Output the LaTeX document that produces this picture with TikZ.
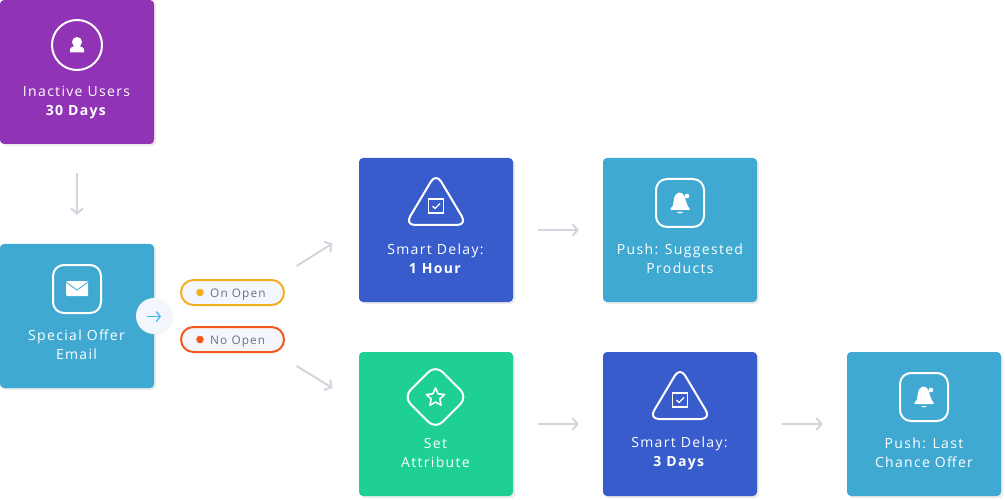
\documentclass[tikz,border=0pt]{standalone}
\usepackage{fontspec}
\setmainfont{Open Sans}[LetterSpace=9.5]
\usetikzlibrary{arrows.meta,shadows,shapes.geometric}
\definecolor{cardpurple}{HTML}{9033B5}
\definecolor{cardteal}{HTML}{3FA9D1}
\definecolor{cardblue}{HTML}{385CCB}
\definecolor{cardgreen}{HTML}{1FD095}
\definecolor{flowgray}{HTML}{D5D3DE}
\definecolor{pillfill}{HTML}{F3F6FC}
\definecolor{pilltext}{HTML}{6B7288}
\definecolor{pillamber}{HTML}{F2B01E}
\definecolor{pillorange}{HTML}{F4581C}
\definecolor{branchblue}{HTML}{3BB8F0}
\tikzset{
	card/.style={minimum width=154pt,minimum height=144pt,inner sep=0pt,rounded corners=4pt,fill=#1,
		drop shadow={shadow xshift=2pt,shadow yshift=-2pt,fill=black!40,opacity=.2}},
	cardtext/.style={text=white,align=center,inner sep=0pt,font=\fontsize{14}{19}\selectfont},
	icon/.style={draw=white,line width=2pt},
	pillbox/.style={draw=#1,line width=2pt,fill=pillfill,rounded corners=12.4pt,minimum width=103pt,minimum height=25pt,inner sep=0pt,
		drop shadow={shadow xshift=1pt,shadow yshift=-1pt,fill=black!30,opacity=.2}},
	pilltxt/.style={text=pilltext,inner sep=0pt,font=\fontsize{11.8}{14}\selectfont},
	flow/.style={draw=flowgray,line width=2pt,-{Straight Barb[length=5pt,width=12pt]}},
}
\newcommand{\bellicon}[1]{%
	\begin{scope}[shift={(#1)}]
	\draw[icon,rounded corners=11pt] (-24,-24) rectangle (24,24);
	\fill[white] (-9.5,7) -- (-9.5,5.5) .. controls (-7,4) and (-6.5,2) .. (-6.5,-1) .. controls (-6.5,-6.5) and (-3.5,-10.5) .. (-.5,-10.5) .. controls (2,-10.5) and (3.5,-9) .. (4.5,-6.5) .. controls (6,-3) and (6.5,2.5) .. (9.5,5.5) -- (9.5,7) -- cycle;
	\fill[white] (7,-7) circle (2.3);
	\fill[white] (-3,9) -- (3,9) .. controls (2,10.8) and (-2,10.8) .. (-3,9) -- cycle;
	\end{scope}}
\newcommand{\delayicon}[1]{%
	\begin{scope}[shift={(#1)}]
	\draw[icon,rounded corners=10pt,line join=round] (0,-31) -- (31,21) -- (-31,21) -- cycle;
	\draw[white,line width=1.7pt] (-7.5,-5) rectangle (7.5,9);
	\draw[white,line width=1.2pt] (-3.5,2) -- (-1,4.5) -- (4,-.5);
	\end{scope}}
\begin{document}
\begin{tikzpicture}[x=1pt,y=-1pt]
	\useasboundingbox (0,0) rectangle (1005,500);
	% cards
	\node[card=cardpurple] (inactive) at (77,72) {};
	\node[card=cardteal] (email) at (77,316) {};
	\node[card=cardblue] (delayone) at (436,230) {};
	\node[card=cardteal] (pushone) at (680,230) {};
	\node[card=cardgreen] (attribute) at (436,424) {};
	\node[card=cardblue] (delaytwo) at (680,424) {};
	\node[card=cardteal] (pushtwo) at (924,424) {};
	% card texts
	\node[cardtext] (inactive text) at (76.5,103) {Inactive Users\\\textbf{30 Days}};
	\node[cardtext] (email text) at (76.5,345) {Special Offer\\Email};
	\node[cardtext] (delayone text) at (435.5,259) {Smart Delay:\\\textbf{1 Hour}};
	\node[cardtext] (pushone text) at (680,259) {Push: Suggested\\Products};
	\node[cardtext] (attribute text) at (435.5,453) {Set\\Attribute};
	\node[cardtext] (delaytwo text) at (679.5,453) {Smart Delay:\\\textbf{3 Days}};
	\node[cardtext] (pushtwo text) at (924,453) {Push: Last\\Chance Offer};
	% user icon
	\draw[icon] (77,45) circle (25);
	\fill[white] (77,42) circle (5);
	\fill[white] (70,52.5) -- (70,50) .. controls (70,47.5) and (73,46) .. (77,46) .. controls (81,46) and (84,47.5) .. (84,50) -- (84,52.5) -- cycle;
	% mail icon
	\draw[icon,rounded corners=11pt] (53,265) rectangle (101,313);
	\fill[white,rounded corners=1pt] (66,281) rectangle (88,296);
	\draw[cardteal,line width=.8pt] (66,282) -- (77,290) -- (88,282);
	% other icons
	\delayicon{436,204}
	\delayicon{680,398}
	\bellicon{680,203}
	\bellicon{924,397}
	\draw[icon,rounded corners=10pt,line join=round] (435.5,365) -- (467.5,397) -- (435.5,429) -- (403.5,397) -- cycle;
	\node[star,star points=5,star point ratio=2.1,draw=white,line width=1.6pt,line join=round,minimum size=19pt,inner sep=0pt] (staricon) at (435.5,397.5) {};
	% flow
	\draw[flow,shorten <=29pt,shorten >=29pt] (inactive) -- (email);
	\draw[flow,shorten <=25pt,shorten >=24pt] (delayone) -- (pushone);
	\draw[flow,shorten <=25pt,shorten >=24pt] (attribute) -- (delaytwo);
	\draw[flow,shorten <=25pt,shorten >=24pt] (delaytwo) -- (pushtwo);
	\coordinate (upstart) at (296.5,266);
	\coordinate (upend) at (332.5,243.5);
	\coordinate (downstart) at (296.5,366);
	\coordinate (downend) at (332.5,388);
	\draw[flow] (upstart) -- (upend);
	\draw[flow] (downstart) -- (downend);
	% branch
	\node[circle,fill=pillfill,minimum size=36pt,inner sep=0pt,drop shadow={shadow xshift=1pt,shadow yshift=-1pt,fill=black!30,opacity=.15}] (branch) at (154,316) {};
	\draw[branchblue,line width=1.2pt,-{Straight Barb[length=4pt,width=10pt]}] (147,316.5) -- (161,316.5);
	% pills
	\node[pillbox=pillamber] (onopen) at (232.5,292.5) {};
	\node[pillbox=pillorange] (noopen) at (232.5,339.5) {};
	\fill[pillamber] (200,292.5) circle (3.8);
	\fill[pillorange] (200,339.5) circle (3.8);
	\node[pilltxt,anchor=west] (onopen text) at (210,294.5) {On Open};
	\node[pilltxt,anchor=west] (noopen text) at (210,341.5) {No Open};
\end{tikzpicture}
\end{document}
